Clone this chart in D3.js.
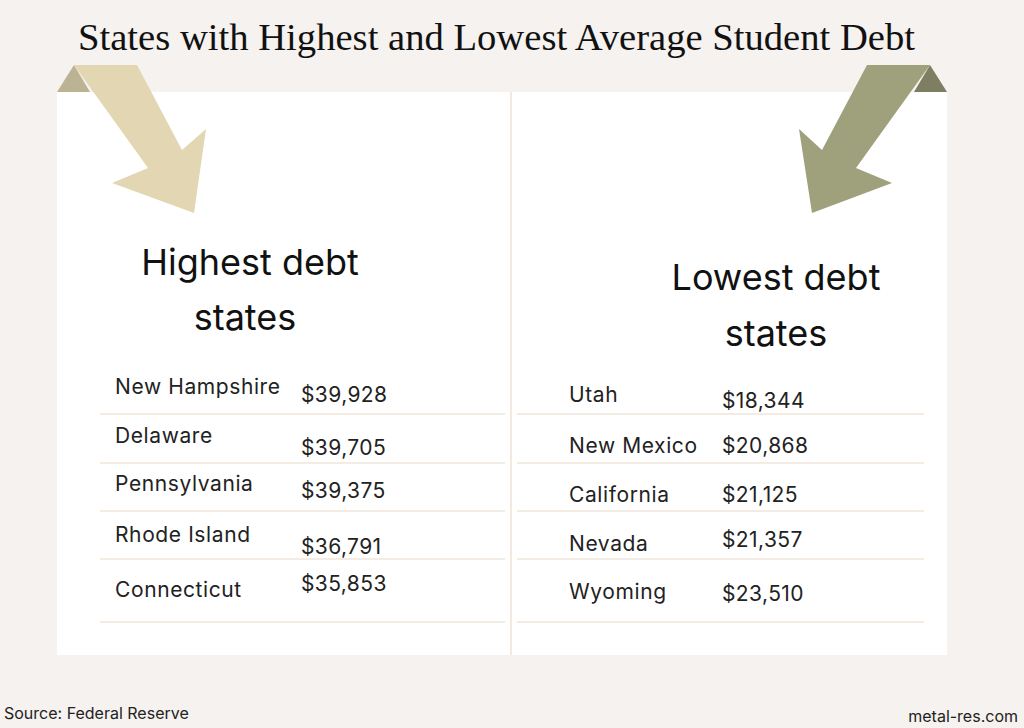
<!DOCTYPE html>
<html><head><meta charset="utf-8">
<script src="https://cdn.jsdelivr.net/npm/d3@7"></script>
<style>body{margin:0;background:#f5f2ef}</style>
</head><body>
<script>
// data
const highStates = ["New Hampshire", "Delaware", "Pennsylvania", "Rhode Island", "Connecticut"];
const highDebt = [39928, 39705, 39375, 36791, 35853];
const lowStates = ["Utah", "New Mexico", "California", "Nevada", "Wyoming"];
const lowDebt = [18344, 20868, 21125, 21357, 23510];

const W = 1024, H = 728;
const svg = d3.select("body").append("svg").attr("width", W).attr("height", H);
svg.append("rect").attr("width", W).attr("height", H).attr("fill", "#f5f2ef");
svg.append("rect").attr("x", 57).attr("y", 92).attr("width", 890).attr("height", 563).attr("fill", "#fff");
svg.append("line").attr("x1", 511).attr("x2", 511).attr("y1", 92).attr("y2", 655)
  .attr("stroke", "#eee3d6").attr("stroke-width", 1.5);

svg.append("text").attr("x", 78).attr("y", 50).attr("textLength", 837)
  .attr("lengthAdjust", "spacingAndGlyphs")
  .style("font", "38px 'Liberation Serif', serif").attr("fill", "#111")
  .text("States with Highest and Lowest Average Student Debt");

// arrows
const line = d3.line();
svg.append("path").attr("d", line([[57,92],[74,65],[90,92]]) + "Z").attr("fill", "#bcb394");
svg.append("path").attr("d", line([[74,65],[137,65],[182,150],[206,129],[194,213],[112,183],[148,168]]) + "Z").attr("fill", "#e3d7b3");
svg.append("path").attr("d", line([[947,92],[930,65],[914,92]]) + "Z").attr("fill", "#7e7f62");
svg.append("path").attr("d", line([[930,65],[867,65],[822,150],[799,129],[812,213],[892,183],[856,168]]) + "Z").attr("fill", "#9fa07c");

const font = "'Inter', 'Noto Sans', sans-serif";
svg.append("text").attr("x", 250).attr("y", 275).attr("text-anchor", "middle")
  .style("font", `36px ${font}`).attr("fill", "#111").text("Highest debt");
svg.append("text").attr("x", 245).attr("y", 330).attr("text-anchor", "middle")
  .style("font", `36px ${font}`).attr("fill", "#111").text("states");
svg.append("text").attr("x", 776).attr("y", 290).attr("text-anchor", "middle")
  .style("font", `36px ${font}`).attr("fill", "#111").text("Lowest debt");
svg.append("text").attr("x", 776).attr("y", 346).attr("text-anchor", "middle")
  .style("font", `36px ${font}`).attr("fill", "#111").text("states");

const fmt = d3.format("$,");
const y = d3.scaleBand().domain(d3.range(5)).range([366, 612]);
const lineY = [414, 463, 511, 559, 622];

function table(names, vals, x0, x1, xn, xv, offs) {
  svg.append("g").selectAll("line").data(lineY).join("line")
    .attr("x1", x0).attr("x2", x1).attr("y1", d => d).attr("y2", d => d)
    .attr("stroke", "#f0e6d8").attr("stroke-width", 1.5);
  svg.append("g").selectAll("text").data(names).join("text")
    .attr("x", xn).attr("y", (d, i) => y(i) + 28 + offs[i][0])
    .style("font", `21px ${font}`).style("letter-spacing", "0.6px").attr("fill", "#222").text(d => d);
  svg.append("g").selectAll("text").data(vals).join("text")
    .attr("x", xv).attr("y", (d, i) => y(i) + 28 + offs[i][1])
    .style("font", `21px ${font}`).style("letter-spacing", "0.4px").attr("fill", "#222").text(d => fmt(d));
}
table(highStates, highDebt, 100, 505, 115, 301, [[0,8],[0,12],[-1,6],[0,12],[6,0]]);
table(lowStates, lowDebt, 517, 924, 569, 722, [[8,14],[10,10],[10,10],[9,5],[8,10]]);

svg.append("text").attr("x", 4).attr("y", 719).style("font", `16px ${font}`).attr("fill", "#222").text("Source: Federal Reserve");
svg.append("text").attr("x", 1018).attr("y", 722).attr("text-anchor", "end").style("font", `16px ${font}`).attr("fill", "#222").text("metal-res.com");
</script>
</body></html>
